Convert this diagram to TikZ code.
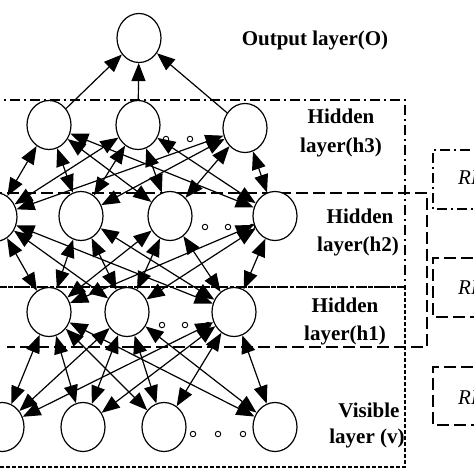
\documentclass[tikz,border=0pt]{standalone}
\usepackage{fontspec}
\setmainfont{Liberation Serif}
\usetikzlibrary{shapes.geometric,arrows.meta}
\begin{document}
\begin{tikzpicture}[x=1pt,y=-1pt,
 neuron/.style={ellipse,draw,fill=white,line width=1.2pt,minimum width=44pt,minimum height=49pt,inner sep=0pt},
 link/.style={line width=1.2pt,{Triangle[length=18pt,width=14pt]}-{Triangle[length=18pt,width=14pt]}},
 uplink/.style={line width=1.2pt,-{Triangle[length=18pt,width=14pt]}},
 lbl/.style={font=\fontsize{21}{25}\selectfont\bfseries,inner sep=0pt},
 rlbl/.style={font=\fontsize{21}{25}\selectfont\itshape,anchor=west,inner sep=0pt},
 smalldot/.style={circle,draw,line width=0.9pt,minimum size=5.5pt,inner sep=0pt},
 dashdot/.style={line width=1.3pt,dash pattern=on 10pt off 4pt on 2pt off 4pt},
 longdash/.style={line width=1.3pt,dash pattern=on 12pt off 5pt},
 shortdash/.style={line width=2pt,dash pattern=on 4pt off 2pt},
]
\useasboundingbox (0,0) rectangle (474,474);
\clip (0,0) rectangle (474,474);
\fill[white] (0,0) rectangle (474,474);

% grouping boxes
\draw[dashdot] (-10,100) -- (405,100) -- (405,287) -- (-10,287);
\draw[longdash] (-10,193) -- (427,193) -- (427,347) -- (7,347);
\draw[shortdash] (-10,287) -- (405,287) -- (405,467) -- (-10,467);

% RBM boxes on the right
\draw[dashdot] (490,150) -- (433,150) -- (433,209) -- (490,209);
\draw[longdash] (490,258) -- (433,258) -- (433,317) -- (490,317);
\draw[longdash] (490,367) -- (433,367) -- (433,425) -- (490,425);
\node[rlbl] (r3) at (458,178) {RBM3};
\node[rlbl] (r2) at (458,288) {RBM2};
\node[rlbl] (r1) at (458,398) {RBM1};

% neurons
\node[neuron] (o) at (139,38) {};
\node[neuron] (h3a) at (49,125) {};
\node[neuron] (h3b) at (138,125) {};
\node[neuron] (h3c) at (245,128) {};
\node[neuron] (h2a) at (-5,217) {};
\node[neuron] (h2b) at (81,216) {};
\node[neuron] (h2c) at (170,216) {};
\node[neuron] (h2d) at (275,216) {};
\node[neuron] (h1a) at (49,312) {};
\node[neuron] (h1b) at (127,312) {};
\node[neuron] (h1c) at (234,312) {};
\node[neuron] (va) at (2,427) {};
\node[neuron] (vb) at (83,427) {};
\node[neuron] (vc) at (164,427) {};
\node[neuron] (vd) at (275,427) {};

% ellipsis dots
\foreach \x [count=\i] in {166,190,213} \node[smalldot] (d3\i) at (\x,139) {};
\foreach \x [count=\i] in {205,228,252} \node[smalldot] (d2\i) at (\x,227) {};
\foreach \x [count=\i] in {162,185,208} \node[smalldot] (d1\i) at (\x,325) {};
\foreach \x [count=\i] in {193,218,243} \node[smalldot] (d0\i) at (\x,434) {};

% connections
\foreach \a in {h3a,h3b,h3c} \draw[uplink] (\a) -- (o);
\foreach \a in {h3a,h3b,h3c} \foreach \b in {h2a,h2b,h2c,h2d} \draw[link] (\a) -- (\b);
\foreach \a in {h2a,h2b,h2c,h2d} \foreach \b in {h1a,h1b,h1c} \draw[link] (\a) -- (\b);
\foreach \a in {h1a,h1b,h1c} \foreach \b in {va,vb,vc,vd} \draw[link] (\a) -- (\b);

% labels
\node[lbl] (lo) at (315,40) {Output layer(O)};
\node[lbl] (l3a) at (341,116) {Hidden};
\node[lbl] (l3b) at (341,147) {layer(h3)};
\node[lbl] (l2a) at (360,216) {Hidden};
\node[lbl] (l2b) at (358,246) {layer(h2)};
\node[lbl] (l1a) at (345,305) {Hidden};
\node[lbl] (l1b) at (345,335) {layer(h1)};
\node[lbl] (l0a) at (369,410) {Visible};
\node[lbl] (l0b) at (367,438) {layer (v)};
\end{tikzpicture}
\end{document}
